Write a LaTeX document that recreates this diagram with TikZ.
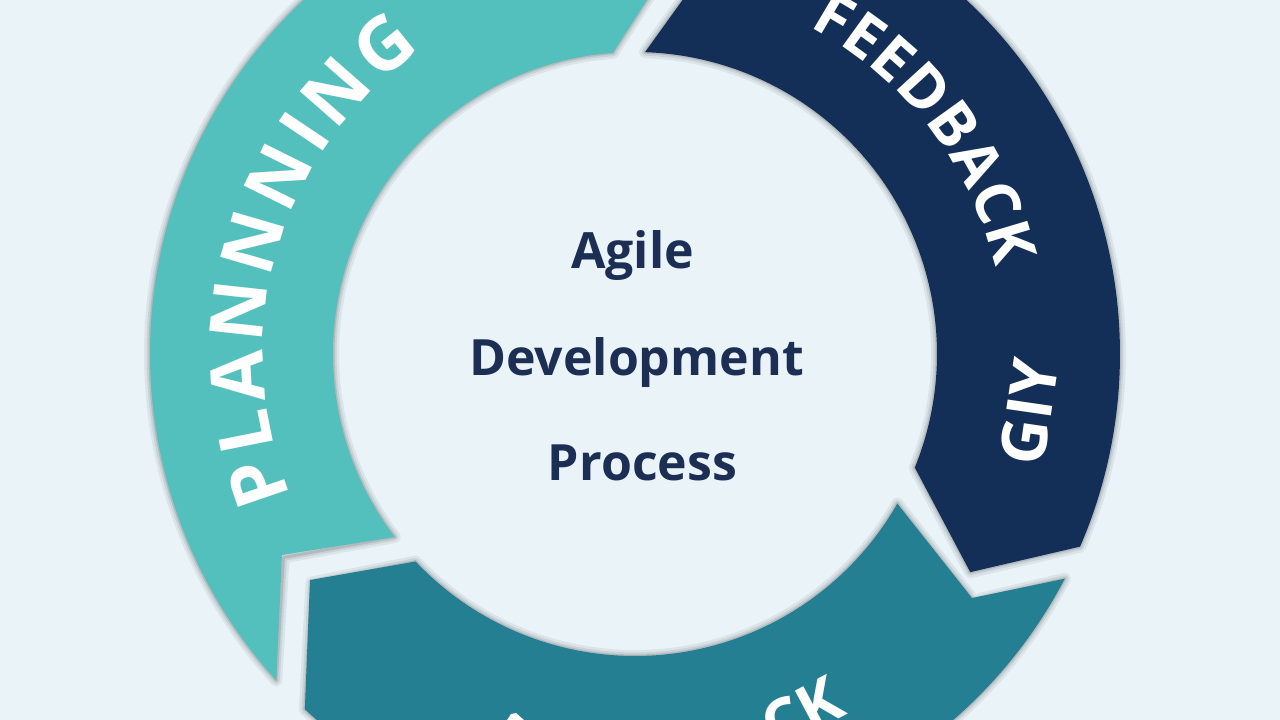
\documentclass[tikz,border=0pt]{standalone}
\usepackage{fontspec}
\setmainfont{Open Sans}
\usetikzlibrary{calc,decorations.text}
\definecolor{bgc}{RGB}{233,243,248}
\definecolor{tealL}{RGB}{84,192,190}
\definecolor{navyS}{RGB}{19,47,88}
\definecolor{tealD}{RGB}{36,127,147}
\definecolor{txtN}{RGB}{28,46,84}
\newcommand\myRi{302}
\newcommand\myRo{485}
\newcommand\segPlan{($(C)+(137.7:\myRo)$) -- (282,555) -- ($(C)+(142.7:\myRi)$) arc[start angle=142.7,end angle=265.8,radius=\myRi] -- ($(C)+(275.4:395)$) -- ($(C)+(265.8:\myRo)$) arc[start angle=265.8,end angle=137.7,radius=\myRo] -- cycle}
\newcommand\segFeed{($(C)+(271.9:\myRi)$) arc[start angle=271.9,end angle=382.1,radius=\myRi] -- ($(C)+(393.05:400)$) -- ($(C)+(383.4:\myRo)$) arc[start angle=383.4,end angle=271.9,radius=\myRo] -- ($(C)+(280.6:396)$) -- cycle}
\newcommand\segBot{($(C)+(29.7:\myRi)$) -- (972,598) -- ($(C)+(27.6:\myRo)$) arc[start angle=27.6,end angle=132.9,radius=\myRo] -- (310,580) -- ($(C)+(136.6:\myRi)$) arc[start angle=136.6,end angle=29.7,radius=\myRi] -- cycle}
\newcommand\plfont{\fontsize{74}{74}\selectfont\bfseries}
\newcommand\fbfont{\fontsize{61}{61}\selectfont\bfseries}
\tikzset{
  shdA/.style={draw=black,opacity=.06,line width=12,line join=round},
  shdB/.style={draw=black,opacity=.08,line width=7,line join=round},
  shdC/.style={draw=black,opacity=.11,line width=3,line join=round},
  ctext/.style={text=txtN,font=\fontsize{50}{50}\selectfont\bfseries,anchor=base,inner sep=0pt},
  rtext/.style={text=white,font=\fontsize{63}{63}\selectfont\bfseries,inner sep=0pt}
}
\begin{document}
\begin{tikzpicture}[x=1pt,y=-1pt]
\useasboundingbox (0,0) rectangle (1280,720);
\fill[bgc] (0,0) rectangle (1280,720);
\clip (0,0) rectangle (1280,720);
\coordinate (C) at (635,354);
% shadows
\begin{scope}[shift={(1.5,2.5)}]
  \foreach \s in {shdA,shdB,shdC}{
    \path[\s] \segPlan;
    \path[\s] \segFeed;
    \path[\s] \segBot;
  }
\end{scope}
% segments
\fill[tealL] \segPlan;
\fill[navyS] \segFeed;
\fill[tealD] \segBot;
% ring labels
\path[decorate,decoration={text along path,text align=fit to path,
  text={|\plfont\color{white}|PLANNNING}}]
  ($(C)+(157.5:372)$) arc[start angle=157.5,end angle=235,radius=372];
\path[decorate,decoration={text along path,text align=fit to path,
  text={|\fbfont\color{white}|FEEDBACK}}]
  ($(C)+(298:371)$) arc[start angle=298,end angle=346.5,radius=371];
\node[rtext,rotate=81.7] (giy) at ($(C)+(8.3:398)$) {GIY};
\node[rtext,rotate=28,anchor=base west] (ck) at (776,752) {CK};
\fill[white] (507,720) -- (511,714) -- (516,713) -- (524,720) -- cycle;
% centre text
\node[ctext] (agile) at (632.5,268) {Agile};
\node[ctext] (dev) at (636.5,375) {Development};
\node[ctext] (proc) at (642.5,480) {Process};
\end{tikzpicture}
\end{document}
